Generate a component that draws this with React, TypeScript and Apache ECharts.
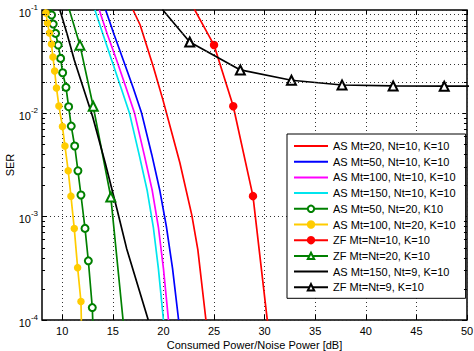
import { useEffect, useRef } from "react";
import * as echarts from "echarts";

const FONT = "'Liberation Sans', Arial, Helvetica, sans-serif";

// axis ticks
const xTickValues = [10, 15, 20, 25, 30, 35, 40, 45, 50];
const yDecades = [1e-4, 1e-3, 1e-2, 1e-1];
const minorMultipliers = [2, 3, 4, 5, 6, 7, 8, 9];

// legend / series names
const seriesNames = [
  "AS Mt=20, Nt=10, K=10",
  "AS Mt=50, Nt=10, K=10",
  "AS Mt=100, Nt=10, K=10",
  "AS Mt=150, Nt=10, K=10",
  "AS Mt=50, Nt=20, K10",
  "AS Mt=100, Nt=20, K=10",
  "ZF Mt=Nt=10, K=10",
  "ZF Mt=Nt=20, K=10",
  "AS Mt=150, Nt=9, K=10",
  "ZF Mt=Nt=9, K=10",
];

// data: [Consumed Power/Noise Power (dB), SER]
const asMt20Nt10 = [
  [17.0, 0.1], [17.7, 0.0716], [19.0, 0.0282], [19.95, 0.0135], [21.0, 0.00562],
  [21.63, 0.00331], [22.8, 0.00104], [23.4, 0.000479], [24.2, 0.0001],
];
const asMt50Nt10 = [
  [14.29, 0.1], [15.14, 0.0573], [16.03, 0.0328], [17.0, 0.0178], [17.85, 0.01],
  [18.85, 0.00398], [19.65, 0.00178], [20.3, 0.000794], [20.9, 0.000316], [21.5, 0.0001],
];
const asMt100Nt10 = [
  [13.66, 0.1], [14.48, 0.0573], [15.37, 0.0328], [16.3, 0.0178], [17.15, 0.01],
  [18.1, 0.00398], [18.9, 0.00178], [19.5, 0.000794], [20.0, 0.000316], [20.5, 0.0001],
];
const asMt150Nt10 = [
  [13.23, 0.1], [14.05, 0.0573], [14.88, 0.0328], [15.8, 0.0178], [16.65, 0.01],
  [17.6, 0.00398], [18.4, 0.00178], [19.0, 0.000794], [19.5, 0.000316], [20.0, 0.0001],
];
const asMt50Nt20 = [
  [8.8, 0.108], [8.95, 0.0895], [9.11, 0.0731], [9.34, 0.0594], [9.6, 0.0458],
  [9.84, 0.034], [10.04, 0.0247], [10.37, 0.01786], [10.63, 0.01159], [10.89, 0.00753],
  [11.23, 0.00483], [11.55, 0.00278], [11.85, 0.00162], [12.25, 0.00077], [12.58, 0.000374],
  [12.97, 0.000132], [13.12, 0.00005],
];
const asMt100Nt20 = [
  [8.25, 0.115], [8.39, 0.0935], [8.54, 0.0748], [8.74, 0.0598], [8.93, 0.0469],
  [9.08, 0.0351], [9.25, 0.0257], [9.43, 0.0176], [9.67, 0.01178], [10.02, 0.00745],
  [10.27, 0.00482], [10.59, 0.00278], [10.86, 0.00158], [11.19, 0.000767], [11.52, 0.000321],
  [11.85, 0.000151], [12.0, 0.00003],
];
const zfNt10 = [
  [23.05, 0.102], [25.0, 0.0458], [26.9, 0.0117], [28.85, 0.00158], [30.8, 0.000035],
];
const zfNt20 = [
  [10.68, 0.102], [11.75, 0.0457], [13.06, 0.0117], [14.8, 0.00155], [16.5, 0.000033],
];
const asMt150Nt9 = [
  [9.77, 0.1], [10.5, 0.0575], [11.19, 0.0328], [12.1, 0.0174], [13.0, 0.00933],
  [14.25, 0.00331], [15.43, 0.00116], [16.36, 0.000493], [18.5, 0.0001],
];
const zfNt9 = [
  [19.9, 0.101], [22.6, 0.049], [27.6, 0.0263], [32.65, 0.0209], [37.65, 0.0188],
  [42.7, 0.0184], [47.75, 0.0183], [52.75, 0.0183],
];

const X_MIN = 8;
const X_MAX = 50;

export default function App() {
  const ref = useRef<HTMLDivElement>(null);

  useEffect(() => {
    const chart = echarts.init(ref.current!, null, { renderer: "svg" });

    const minorValues: number[] = [];
    yDecades.slice(0, 3).forEach((d) => minorMultipliers.forEach((m) => minorValues.push(d * m)));

    const gridDot = { color: "#333", type: [1, 3], width: 1 };

    const lineSeries = (
      name: string,
      data: number[][],
      color: string,
      symbol: string = "none",
      symbolSize = 6
    ) => ({
      name,
      type: "line",
      data,
      clip: true,
      symbol,
      symbolSize,
      showSymbol: symbol !== "none",
      lineStyle: { color, width: 1.7 },
      itemStyle: {
        color,
        borderColor: color,
        borderWidth: 1.5,
        opacity: symbol === "none" ? 0 : 1,
      },
      emphasis: { disabled: true },
      z: 3,
    });

    const option: any = {
      animation: false,
      textStyle: { fontFamily: FONT },
      grid: {
        left: 42,
        right: 7,
        top: 10,
        bottom: 31,
        show: true,
        borderColor: "#000",
        borderWidth: 1.5,
        backgroundColor: "#fff",
        containLabel: false,
        outerBoundsMode: "none",
      },
      legend: {
        data: seriesNames,
        orient: "vertical",
        left: 287,
        top: 134,
        padding: [5, 10, 4, 6],
        itemWidth: 34,
        itemHeight: 8,
        itemGap: 1.7,
        backgroundColor: "#fff",
        borderColor: "#000",
        borderWidth: 1,
        borderRadius: 0,
        textStyle: { fontSize: 11, color: "#000", fontFamily: FONT, lineHeight: 14 },
        selectedMode: false,
      },
      xAxis: [
        {
          type: "value",
          min: X_MIN,
          max: X_MAX,
          name: "Consumed Power/Noise Power [dB]",
          nameLocation: "middle",
          nameGap: 19,
          nameMoveOverlap: false,
          nameTextStyle: { fontSize: 11, color: "#000", fontFamily: FONT },
          axisLine: { show: false },
          axisTick: {
            show: true,
            inside: true,
            length: 5,
            customValues: xTickValues,
            lineStyle: { color: "#000", width: 1 },
          },
          axisLabel: {
            customValues: xTickValues,
            fontSize: 11,
            color: "#000",
            margin: 5,
            fontFamily: FONT,
          },
          splitLine: { show: true, lineStyle: gridDot },
        },
        {
          type: "value",
          position: "top",
          min: X_MIN,
          max: X_MAX,
          axisLine: { show: false },
          axisTick: {
            show: true,
            inside: true,
            length: 5,
            customValues: xTickValues,
            lineStyle: { color: "#000", width: 1 },
          },
          axisLabel: { show: false, customValues: xTickValues },
          splitLine: { show: false },
        },
      ],
      yAxis: [
        {
          type: "log",
          logBase: 10,
          min: 1e-4,
          max: 1e-1,
          name: "SER",
          nameLocation: "middle",
          nameGap: 27,
          nameMoveOverlap: false,
          nameTextStyle: { fontSize: 11, color: "#000", fontFamily: FONT },
          axisLine: { show: false },
          axisTick: { show: true, inside: true, length: 5, lineStyle: { color: "#000" } },
          axisLabel: {
            margin: 4,
            color: "#000",
            formatter: (v: number) => `{b|10}{s|${Math.round(Math.log10(v))}}`,
            rich: {
              b: { fontSize: 11, fontFamily: FONT, color: "#000", padding: [5, 0, 0, 0] },
              s: { fontSize: 8, fontFamily: FONT, color: "#000", padding: [0, 0, 6, 0] },
            },
          },
          splitLine: { show: true, lineStyle: gridDot },
        },
        {
          type: "log",
          logBase: 10,
          min: 1e-4,
          max: 1e-1,
          position: "right",
          axisLine: { show: false },
          axisTick: { show: true, inside: true, length: 5, lineStyle: { color: "#000" } },
          axisLabel: { show: false },
          splitLine: { show: false },
        },
      ],
      series: [
        {
          type: "line",
          data: [],
          z: 1,
          silent: true,
          markLine: {
            silent: true,
            symbol: "none",
            label: { show: false },
            animation: false,
            lineStyle: gridDot,
            data: minorValues.map((v) => ({ yAxis: v })),
          },
        },
        {
          type: "line",
          data: [],
          z: 1,
          silent: true,
          markLine: {
            silent: true,
            symbol: "none",
            label: { show: false },
            animation: false,
            lineStyle: { color: "#000", type: "solid", width: 1 },
            data: [
              ...minorValues.map((v) => [{ coord: [X_MIN, v] }, { coord: [X_MIN + 0.3, v] }]),
              ...minorValues.map((v) => [{ coord: [X_MAX - 0.3, v] }, { coord: [X_MAX, v] }]),
            ],
          },
        },
        lineSeries(seriesNames[0], asMt20Nt10, "#ff0000"),
        lineSeries(seriesNames[1], asMt50Nt10, "#0000ff"),
        lineSeries(seriesNames[2], asMt100Nt10, "#ff00ff"),
        lineSeries(seriesNames[3], asMt150Nt10, "#00e5ee"),
        lineSeries(seriesNames[4], asMt50Nt20, "#008000", "emptyCircle", 7),
        lineSeries(seriesNames[5], asMt100Nt20, "#ffcc00", "circle", 6),
        lineSeries(seriesNames[6], zfNt10, "#ff0000", "circle", 7),
        lineSeries(seriesNames[7], zfNt20, "#008000", "emptyTriangle", 9),
        lineSeries(seriesNames[8], asMt150Nt9, "#000000"),
        lineSeries(seriesNames[9], zfNt9, "#000000", "emptyTriangle", 9),
      ],
    };

    chart.setOption(option);
    return () => chart.dispose();
  }, []);

  return (
    <div
      ref={ref}
      style={{ position: "fixed", left: 0, top: 0, width: 474, height: 351, background: "#fff" }}
    />
  );
}
